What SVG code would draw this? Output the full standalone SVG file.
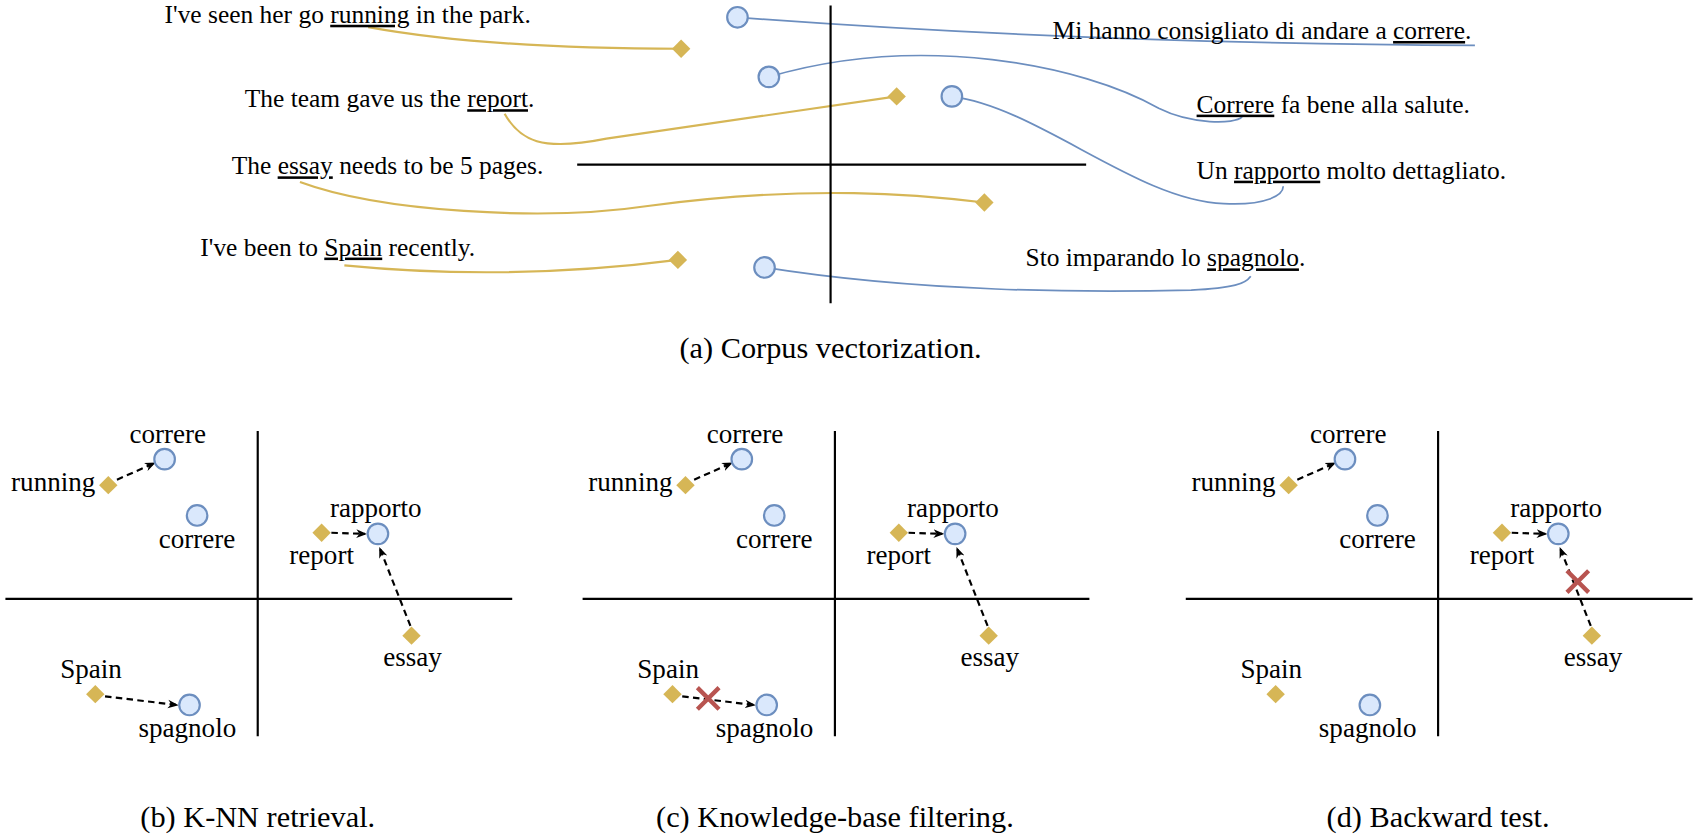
<svg xmlns="http://www.w3.org/2000/svg" width="1697" height="835" viewBox="0 0 1697 835">
<style>
text{font-family:"Liberation Serif",serif;fill:#000}
.s{font-size:23.5px}
.e{text-anchor:end}
.l{font-size:25px}
.c{font-size:28px;text-anchor:middle}
.m{text-anchor:middle}
.ax{stroke:#000;stroke-width:2;fill:none}
.g{stroke:#d6b656;stroke-width:2;fill:none}
.b{stroke:#6c8ebf;stroke-width:1.6;fill:none}
.dm{fill:#d6b656}
.ci{fill:#dae8fc;stroke:#6c8ebf;stroke-width:2}
.ar{stroke:#000;stroke-width:2;stroke-dasharray:6,4;fill:none;marker-end:url(#ah)}
.x{stroke:#b85450;stroke-width:4}
</style>
<defs>
<marker id="ah" markerWidth="10" markerHeight="10" refX="8" refY="5" orient="auto" markerUnits="userSpaceOnUse"><path d="M0,1 L10,5 L0,9 L3,5 z" fill="#000"/></marker>
<path id="d" d="M0,-8.5 L8.5,0 L0,8.5 L-8.5,0 z"/>
</defs>
<g transform="scale(1.0829)">
<g id="connectors">
<path class="g" d="M340,25 Q450,45 629,45"/>
<path class="b" d="M681,16 Q1000,40 1362,42"/>
<path class="b" d="M710,71 C850,30 1000,60 1070,100 C1100,115 1140,115 1147,108"/>
<path class="g" d="M466,105 C480,130 500,140 560,128 L828,89"/>
<path class="b" d="M879,89 C960,100 1050,185 1130,188 C1170,190 1185,180 1185,172"/>
<path class="g" d="M277,168 C350,195 500,205 600,190 C750,170 850,180 909,187"/>
<path class="g" d="M318,245 Q470,260 626,240"/>
<path class="b" d="M706,247 C850,270 1000,270 1100,268 C1140,266 1150,262 1155,255"/>
</g>
<g id="panel-a">
<line class="ax" x1="767" y1="5" x2="767" y2="280"/>
<line class="ax" x1="533" y1="152" x2="1003" y2="152"/>
<use href="#d" class="dm" x="629" y="45"/>
<use href="#d" class="dm" x="828" y="89"/>
<use href="#d" class="dm" x="909" y="187"/>
<use href="#d" class="dm" x="626" y="240"/>
<circle class="ci" cx="681" cy="16" r="9.5"/>
<circle class="ci" cx="710" cy="71" r="9.5"/>
<circle class="ci" cx="879" cy="89" r="9.5"/>
<circle class="ci" cx="706" cy="247" r="9.5"/>
<text class="s" x="152" y="21">I've seen her go <tspan text-decoration="underline">running</tspan> in the park.</text>
<text class="s" x="972" y="36">Mi hanno consigliato di andare a <tspan text-decoration="underline">correre</tspan>.</text>
<text class="s" x="1105" y="104"><tspan text-decoration="underline">Correre</tspan> fa bene alla salute.</text>
<text class="s" x="226" y="99">The team gave us the <tspan text-decoration="underline">report</tspan>.</text>
<text class="s" x="1105" y="165">Un <tspan text-decoration="underline">rapporto</tspan> molto dettagliato.</text>
<text class="s" x="214" y="161">The <tspan text-decoration="underline">essay</tspan> needs to be 5 pages.</text>
<text class="s" x="185" y="236">I've been to <tspan text-decoration="underline">Spain</tspan> recently.</text>
<text class="s" x="947" y="246">Sto imparando lo <tspan text-decoration="underline">spagnolo</tspan>.</text>
<text class="c" x="767" y="331">(a) Corpus vectorization.</text>
</g>
<g id="panel-b">
<line class="ax" x1="238" y1="398" x2="238" y2="680"/>
<line class="ax" x1="5" y1="553" x2="473" y2="553"/>
<path class="ar" d="M108,443 L142,428"/>
<path class="ar" d="M306,492 L337,493"/>
<path class="ar" d="M379,578 L351,507"/>
<path class="ar" d="M97,643 L163,651"/>
<use href="#d" class="dm" x="100" y="448"/>
<use href="#d" class="dm" x="297" y="492"/>
<use href="#d" class="dm" x="380" y="587"/>
<use href="#d" class="dm" x="88" y="641"/>
<circle class="ci" cx="152" cy="424" r="9.5"/>
<circle class="ci" cx="182" cy="476" r="9.5"/>
<circle class="ci" cx="349" cy="493" r="9.5"/>
<circle class="ci" cx="175" cy="651" r="9.5"/>
<text class="l e" x="88" y="453">running</text>
<text class="l m" x="155" y="409">correre</text>
<text class="l m" x="182" y="506">correre</text>
<text class="l m" x="297" y="521">report</text>
<text class="l m" x="347" y="477">rapporto</text>
<text class="l m" x="381" y="615">essay</text>
<text class="l m" x="84" y="626">Spain</text>
<text class="l m" x="173" y="681">spagnolo</text>
<text class="c" x="238" y="764">(b) K-NN retrieval.</text>
</g>
<g id="panel-c" transform="translate(533,0)">
<line class="ax" x1="238" y1="398" x2="238" y2="680"/>
<line class="ax" x1="5" y1="553" x2="473" y2="553"/>
<path class="ar" d="M108,443 L142,428"/>
<path class="ar" d="M306,492 L337,493"/>
<path class="ar" d="M379,578 L351,507"/>
<path class="ar" d="M97,643 L163,651"/>
<use href="#d" class="dm" x="100" y="448"/>
<use href="#d" class="dm" x="297" y="492"/>
<use href="#d" class="dm" x="380" y="587"/>
<use href="#d" class="dm" x="88" y="641"/>
<circle class="ci" cx="152" cy="424" r="9.5"/>
<circle class="ci" cx="182" cy="476" r="9.5"/>
<circle class="ci" cx="349" cy="493" r="9.5"/>
<circle class="ci" cx="175" cy="651" r="9.5"/>
<path class="x" d="M111,635 L131,655 M131,635 L111,655"/>
<text class="l e" x="88" y="453">running</text>
<text class="l m" x="155" y="409">correre</text>
<text class="l m" x="182" y="506">correre</text>
<text class="l m" x="297" y="521">report</text>
<text class="l m" x="347" y="477">rapporto</text>
<text class="l m" x="381" y="615">essay</text>
<text class="l m" x="84" y="626">Spain</text>
<text class="l m" x="173" y="681">spagnolo</text>
<text class="c" x="238" y="764">(c) Knowledge-base filtering.</text>
</g>
<g id="panel-d" transform="translate(1090,0)">
<line class="ax" x1="238" y1="398" x2="238" y2="680"/>
<line class="ax" x1="5" y1="553" x2="473" y2="553"/>
<path class="ar" d="M108,443 L142,428"/>
<path class="ar" d="M306,492 L337,493"/>
<path class="ar" d="M379,578 L351,507"/>
<use href="#d" class="dm" x="100" y="448"/>
<use href="#d" class="dm" x="297" y="492"/>
<use href="#d" class="dm" x="380" y="587"/>
<use href="#d" class="dm" x="88" y="641"/>
<circle class="ci" cx="152" cy="424" r="9.5"/>
<circle class="ci" cx="182" cy="476" r="9.5"/>
<circle class="ci" cx="349" cy="493" r="9.5"/>
<circle class="ci" cx="175" cy="651" r="9.5"/>
<path class="x" d="M357,527 L377,547 M377,527 L357,547"/>
<text class="l e" x="88" y="453">running</text>
<text class="l m" x="155" y="409">correre</text>
<text class="l m" x="182" y="506">correre</text>
<text class="l m" x="297" y="521">report</text>
<text class="l m" x="347" y="477">rapporto</text>
<text class="l m" x="381" y="615">essay</text>
<text class="l m" x="84" y="626">Spain</text>
<text class="l m" x="173" y="681">spagnolo</text>
<text class="c" x="238" y="764">(d) Backward test.</text>
</g>
</g>
</svg>
